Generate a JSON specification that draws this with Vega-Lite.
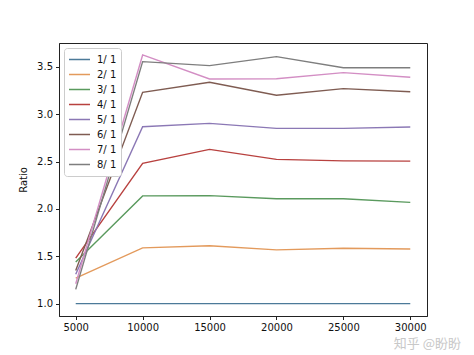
{
  "$schema": "https://vega.github.io/schema/vega-lite/v6.json",
  "width": 368,
  "height": 273,
  "autosize": {"type": "none"},
  "padding": {"left": 59, "top": 43, "right": 47, "bottom": 39},
  "background": "white",
  "title": {
    "text": "知乎 @盼盼",
    "orient": "bottom",
    "anchor": "end",
    "color": "#c8c8c8",
    "fontSize": 13,
    "fontWeight": "normal",
    "font": "Noto Sans CJK SC",
    "offset": 5,
    "dx": 34
  },
  "config": {
    "font": "DejaVu Sans",
    "view": {"stroke": "#222222", "strokeWidth": 1},
    "axis": {
      "grid": false,
      "domainColor": "#222222",
      "tickColor": "#222222",
      "tickSize": 3.5,
      "labelColor": "#111111",
      "labelFontSize": 10,
      "labelFont": "DejaVu Sans",
      "titleFont": "DejaVu Sans",
      "titleFontSize": 10,
      "titleFontWeight": "normal",
      "titleColor": "#111111",
      "labelPadding": 3
    }
  },
  "data": {
    "values": [
      {"n": 5000, "ratio": 1.0, "s": "1/ 1"},
      {"n": 10000, "ratio": 1.0, "s": "1/ 1"},
      {"n": 15000, "ratio": 1.0, "s": "1/ 1"},
      {"n": 20000, "ratio": 1.0, "s": "1/ 1"},
      {"n": 25000, "ratio": 1.0, "s": "1/ 1"},
      {"n": 30000, "ratio": 1.0, "s": "1/ 1"},
      {"n": 5000, "ratio": 1.27, "s": "2/ 1"},
      {"n": 10000, "ratio": 1.588, "s": "2/ 1"},
      {"n": 15000, "ratio": 1.61, "s": "2/ 1"},
      {"n": 20000, "ratio": 1.567, "s": "2/ 1"},
      {"n": 25000, "ratio": 1.585, "s": "2/ 1"},
      {"n": 30000, "ratio": 1.577, "s": "2/ 1"},
      {"n": 5000, "ratio": 1.44, "s": "3/ 1"},
      {"n": 10000, "ratio": 2.137, "s": "3/ 1"},
      {"n": 15000, "ratio": 2.14, "s": "3/ 1"},
      {"n": 20000, "ratio": 2.106, "s": "3/ 1"},
      {"n": 25000, "ratio": 2.106, "s": "3/ 1"},
      {"n": 30000, "ratio": 2.068, "s": "3/ 1"},
      {"n": 5000, "ratio": 1.48, "s": "4/ 1"},
      {"n": 10000, "ratio": 2.48, "s": "4/ 1"},
      {"n": 15000, "ratio": 2.628, "s": "4/ 1"},
      {"n": 20000, "ratio": 2.522, "s": "4/ 1"},
      {"n": 25000, "ratio": 2.507, "s": "4/ 1"},
      {"n": 30000, "ratio": 2.504, "s": "4/ 1"},
      {"n": 5000, "ratio": 1.31, "s": "5/ 1"},
      {"n": 10000, "ratio": 2.867, "s": "5/ 1"},
      {"n": 15000, "ratio": 2.903, "s": "5/ 1"},
      {"n": 20000, "ratio": 2.85, "s": "5/ 1"},
      {"n": 25000, "ratio": 2.85, "s": "5/ 1"},
      {"n": 30000, "ratio": 2.864, "s": "5/ 1"},
      {"n": 5000, "ratio": 1.35, "s": "6/ 1"},
      {"n": 10000, "ratio": 3.23, "s": "6/ 1"},
      {"n": 15000, "ratio": 3.336, "s": "6/ 1"},
      {"n": 20000, "ratio": 3.199, "s": "6/ 1"},
      {"n": 25000, "ratio": 3.269, "s": "6/ 1"},
      {"n": 30000, "ratio": 3.237, "s": "6/ 1"},
      {"n": 5000, "ratio": 1.21, "s": "7/ 1"},
      {"n": 10000, "ratio": 3.625, "s": "7/ 1"},
      {"n": 15000, "ratio": 3.371, "s": "7/ 1"},
      {"n": 20000, "ratio": 3.374, "s": "7/ 1"},
      {"n": 25000, "ratio": 3.438, "s": "7/ 1"},
      {"n": 30000, "ratio": 3.389, "s": "7/ 1"},
      {"n": 5000, "ratio": 1.15, "s": "8/ 1"},
      {"n": 10000, "ratio": 3.554, "s": "8/ 1"},
      {"n": 15000, "ratio": 3.512, "s": "8/ 1"},
      {"n": 20000, "ratio": 3.607, "s": "8/ 1"},
      {"n": 25000, "ratio": 3.49, "s": "8/ 1"},
      {"n": 30000, "ratio": 3.49, "s": "8/ 1"}
    ]
  },
  "mark": {"type": "line", "strokeWidth": 1.4},
  "encoding": {
    "x": {
      "field": "n",
      "type": "quantitative",
      "scale": {"domain": [3750, 31250], "nice": false, "zero": false},
      "axis": {"values": [5000, 10000, 15000, 20000, 25000, 30000], "format": "d", "title": null}
    },
    "y": {
      "field": "ratio",
      "type": "quantitative",
      "scale": {"domain": [0.869, 3.751], "nice": false, "zero": false},
      "axis": {"values": [1.0, 1.5, 2.0, 2.5, 3.0, 3.5], "format": ".1f", "title": "Ratio", "titlePadding": 8}
    },
    "color": {
      "field": "s",
      "type": "nominal",
      "scale": {
        "domain": ["1/ 1", "2/ 1", "3/ 1", "4/ 1", "5/ 1", "6/ 1", "7/ 1", "8/ 1"],
        "range": ["#4c7a99", "#e39a5c", "#5a9a5e", "#b8413f", "#8b78b5", "#7f5c52", "#d38ec4", "#7e7e7e"]
      },
      "legend": {
        "title": null,
        "orient": "none",
        "legendX": 5,
        "legendY": 5,
        "symbolType": "stroke",
        "symbolSize": 441,
        "symbolStrokeWidth": 1.5,
        "labelFontSize": 10,
        "labelColor": "#111111",
        "labelOffset": 6,
        "clipHeight": 15,
        "rowPadding": 0,
        "padding": 4,
        "strokeColor": "#cccccc",
        "fillColor": "white",
        "cornerRadius": 3
      }
    }
  }
}
